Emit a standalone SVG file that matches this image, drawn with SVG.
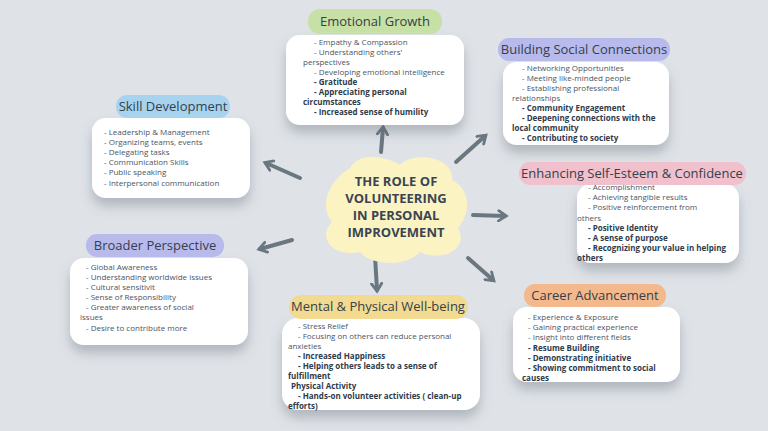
<svg xmlns="http://www.w3.org/2000/svg" width="768" height="431" viewBox="0 0 768 431">
<style>
.t{font-family:"Open Sans","Liberation Sans",sans-serif;font-size:8px;fill:#4a5563}
.b{font-weight:bold;fill:#2f3b4a}
.h{font-family:"Open Sans","Liberation Sans",sans-serif;font-size:13px;fill:#34404d;text-anchor:middle}
.box{fill:#fff;filter:url(#sh)}
.c{stroke:#6b7780;stroke-width:4;fill:none;stroke-linecap:round;marker-end:url(#ah)}
</style>
<defs>
<filter id="sh" x="-20%" y="-20%" width="140%" height="160%"><feDropShadow dx="0" dy="8" stdDeviation="6" flood-color="#5a6470" flood-opacity="0.35"/></filter>
<marker id="ah" viewBox="0 0 10 10" refX="6" refY="5" markerWidth="3.2" markerHeight="3.2" orient="auto"><path d="M1,1 L7,5 L1,9" fill="none" stroke="#6b7780" stroke-width="2.2" stroke-linecap="round"/></marker>
</defs>
<rect width="768" height="431" fill="#dfe3e8"/>
<g id="connectors">
<path class="c" d="M381,152 L383,128"/>
<path class="c" d="M456,162 L485,136"/>
<path class="c" d="M473,215 L505,216"/>
<path class="c" d="M468,258 L493,280"/>
<path class="c" d="M375,256 L377,290"/>
<path class="c" d="M292,240 L260,249"/>
<path class="c" d="M300,178 L266,163"/>
</g>
<g id="center">
<path d="M350,168 C360,150 390,158 400,165 C415,150 455,158 452,180 C472,190 470,215 458,228 C470,250 440,262 420,252 C405,268 370,265 360,252 C330,258 318,235 332,222 C318,205 330,180 350,168 Z" fill="#fbf4c2"/>
<g font-family="'Open Sans','Liberation Sans',sans-serif" font-weight="bold" font-size="13" fill="#3a4452" text-anchor="middle">
<text x="396" y="186">THE ROLE OF</text><text x="396" y="203">VOLUNTEERING</text><text x="396" y="220">IN PERSONAL</text><text x="396" y="237">IMPROVEMENT</text></g>
</g>
<g id="emotional">
<rect class="box" x="286" y="35" width="178" height="90" rx="14"/>
<rect x="308" y="9" width="134" height="25" rx="12" fill="#c7e0a6"/>
<text class="h" x="375" y="26">Emotional Growth</text>
<text class="t" x="314" y="45">- Empathy &amp; Compassion</text>
<text class="t" x="314" y="55">- Understanding others'</text>
<text class="t" x="303" y="65">perspectives</text>
<text class="t" x="314" y="75">- Developing emotional intelligence</text>
<text class="t b" x="314" y="85">- Gratitude</text>
<text class="t b" x="314" y="95">- Appreciating personal</text>
<text class="t b" x="303" y="105">circumstances</text>
<text class="t b" x="314" y="115">- Increased sense of humility</text>
</g>
<g id="social">
<rect class="box" x="503" y="62" width="166" height="83" rx="14"/>
<rect x="498" y="38" width="172" height="23" rx="11" fill="#b8baec"/>
<text class="h" x="584" y="54">Building Social Connections</text>
<text class="t" x="522" y="71">- Networking Opportunities</text>
<text class="t" x="522" y="81">- Meeting like-minded people</text>
<text class="t" x="522" y="91">- Establishing professional</text>
<text class="t" x="512" y="101">relationships</text>
<text class="t b" x="522" y="111">- Community Engagement</text>
<text class="t b" x="522" y="121">- Deepening connections with the</text>
<text class="t b" x="512" y="131">local community</text>
<text class="t b" x="522" y="141">- Contributing to society</text>
</g>
<g id="selfesteem">
<rect class="box" x="577" y="184" width="162" height="79" rx="14"/>
<rect x="519" y="162" width="227" height="23" rx="11" fill="#f0c0cc"/>
<text class="h" x="632" y="178">Enhancing Self-Esteem &amp; Confidence</text>
<text class="t" x="588" y="190">- Accomplishment</text>
<text class="t" x="588" y="200">- Achieving tangible results</text>
<text class="t" x="588" y="210">- Positive reinforcement from</text>
<text class="t" x="577" y="221">others</text>
<text class="t b" x="588" y="231">- Positive Identity</text>
<text class="t b" x="588" y="241">- A sense of purpose</text>
<text class="t b" x="588" y="251">- Recognizing your value in helping</text>
<text class="t b" x="577" y="261">others</text>
</g>
<g id="career">
<rect class="box" x="513" y="307" width="167" height="75" rx="14"/>
<rect x="524" y="284" width="142" height="23" rx="11" fill="#f3b98c"/>
<text class="h" x="595" y="300">Career Advancement</text>
<text class="t" x="528" y="320">- Experience &amp; Exposure</text>
<text class="t" x="528" y="330">- Gaining practical experience</text>
<text class="t" x="528" y="340">- Insight into different fields</text>
<text class="t b" x="528" y="351">- Resume Building</text>
<text class="t b" x="528" y="361">- Demonstrating initiative</text>
<text class="t b" x="528" y="371">- Showing commitment to social</text>
<text class="t b" x="522" y="381">causes</text>
</g>
<g id="mental">
<rect class="box" x="282" y="318" width="198" height="92" rx="16"/>
<rect x="289" y="295" width="179" height="24" rx="12" fill="#f2da90"/>
<text class="h" x="378" y="311">Mental &amp; Physical Well-being</text>
<text class="t" x="298" y="329">- Stress Relief</text>
<text class="t" x="298" y="339">- Focusing on others can reduce     personal</text>
<text class="t" x="288" y="349">anxieties</text>
<text class="t b" x="298" y="359">- Increased Happiness</text>
<text class="t b" x="298" y="369">- Helping others leads to a sense of</text>
<text class="t b" x="288" y="379">fulfillment</text>
<text class="t b" x="291" y="389">Physical Activity</text>
<text class="t b" x="298" y="399">- Hands-on volunteer activities ( clean-up</text>
<text class="t b" x="288" y="409">efforts)</text>
</g>
<g id="broader">
<rect class="box" x="70" y="258" width="178" height="87" rx="14"/>
<rect x="86" y="234" width="138" height="23" rx="11" fill="#b8baec"/>
<text class="h" x="155" y="250">Broader Perspective</text>
<text class="t" x="86" y="270">- Global Awareness</text>
<text class="t" x="86" y="280">- Understanding worldwide issues</text>
<text class="t" x="86" y="290">- Cultural sensitivit</text>
<text class="t" x="86" y="300">- Sense of Responsibility</text>
<text class="t" x="86" y="310">- Greater awareness of social</text>
<text class="t" x="80" y="320">issues</text>
<text class="t" x="86" y="331">- Desire to contribute more</text>
</g>
<g id="skill">
<rect class="box" x="92" y="118" width="158" height="80" rx="14"/>
<rect x="116" y="95" width="114" height="23" rx="11" fill="#a8d3ef"/>
<text class="h" x="173" y="111">Skill Development</text>
<text class="t" x="104" y="135">- Leadership &amp; Management</text>
<text class="t" x="104" y="145">- Organizing teams, events</text>
<text class="t" x="104" y="155">- Delegating tasks</text>
<text class="t" x="104" y="165">- Communication Skills</text>
<text class="t" x="104" y="175">- Public speaking</text>
<text class="t" x="104" y="186">- Interpersonal communication</text>
</g>
</svg>
